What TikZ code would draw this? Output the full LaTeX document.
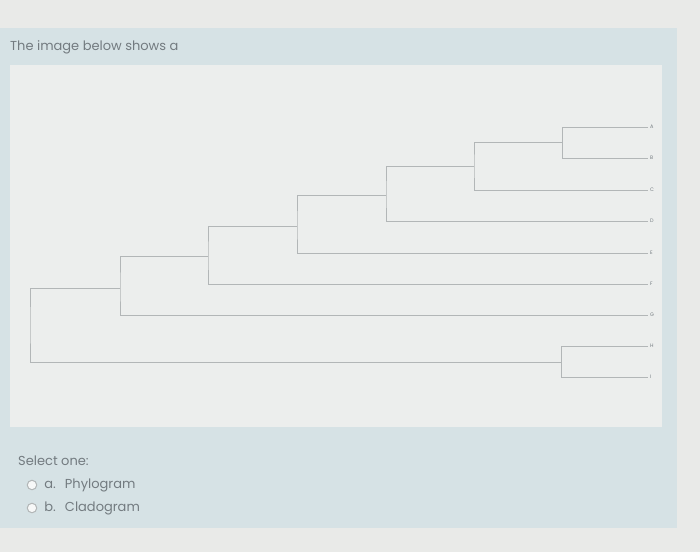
\documentclass[tikz,border=0pt]{standalone}
\usepackage{fontspec}
\setmainfont{Poppins}
\usetikzlibrary{positioning}
\definecolor{pagegrey}{HTML}{E9EAE8}
\definecolor{panelblue}{HTML}{D6E2E5}
\definecolor{treebg}{HTML}{ECEEED}
\definecolor{linegrey}{HTML}{B2B6B7}
\definecolor{textgrey}{HTML}{737B80}
\tikzset{
branch/.style={draw=linegrey, line width=1pt}, % the lines of the tree
tip/.style={anchor=west, inner xsep=2pt, inner ysep=0pt, text=textgrey, font=\fontsize{5}{5}\selectfont}, % tiny leaf letters
qtext/.style={anchor=west, inner sep=0pt, text=textgrey, font=\fontsize{13}{15}\selectfont}, % question text
radio/.style={circle, draw=linegrey, fill=white!60!treebg, line width=1pt, minimum size=9.5pt, inner sep=0pt}, % option circles
}

\begin{document}
\begin{tikzpicture}[x=1pt, y=-1pt]
    % page and panels
    \fill[pagegrey] (0,0) rectangle (700,552);
    \fill[panelblue] (0,28) rectangle (677,528);
    \fill[treebg] (10,65) rectangle (662,427);
    \useasboundingbox (0,0) rectangle (700,552);

    \node[qtext] (question) at (10,47) {The image below shows a};

    % leaves
    \node[tip] (A) at (648,127) {A};
    \node[tip] (B) at (648,158) {B};
    \node[tip] (C) at (648,190) {C};
    \node[tip] (D) at (648,221) {D};
    \node[tip] (E) at (648,253) {E};
    \node[tip] (F) at (648,284) {F};
    \node[tip] (G) at (648,315) {G};
    \node[tip] (H) at (648,346) {H};
    \node[tip] (I) at (648,377) {I};

    % internal nodes
    \coordinate (ab) at (562,142);
    \coordinate (abc) at (474,166);
    \coordinate (abcd) at (386,195);
    \coordinate (abcde) at (297,226);
    \coordinate (abcdef) at (208,256);
    \coordinate (abcdefg) at (120,288);
    \coordinate (hi) at (561,362);
    \coordinate (root) at (30,325);

    \draw[branch] (A.west) -| (ab) |- (B.west);
    \draw[branch] (ab) -| (abc) |- (C.west);
    \draw[branch] (abc) -| (abcd) |- (D.west);
    \draw[branch] (abcd) -| (abcde) |- (E.west);
    \draw[branch] (abcde) -| (abcdef) |- (F.west);
    \draw[branch] (abcdef) -| (abcdefg) |- (G.west);
    \draw[branch] (H.west) -| (hi) |- (I.west);
    \draw[branch] (abcdefg) -| (root) |- (hi);

    % answers
    \node[qtext] (select) at (18,461) {Select one:};
    \node[radio] (radioa) at (32,485) {};
    \node[radio, below=12.5pt of radioa] (radiob) {};
    \node[qtext, right=7pt of radioa] (opta) {a.\hspace{9pt}Phylogram};
    \node[qtext, right=7pt of radiob] (optb) {b.\hspace{9pt}Cladogram};
\end{tikzpicture}
\end{document}
